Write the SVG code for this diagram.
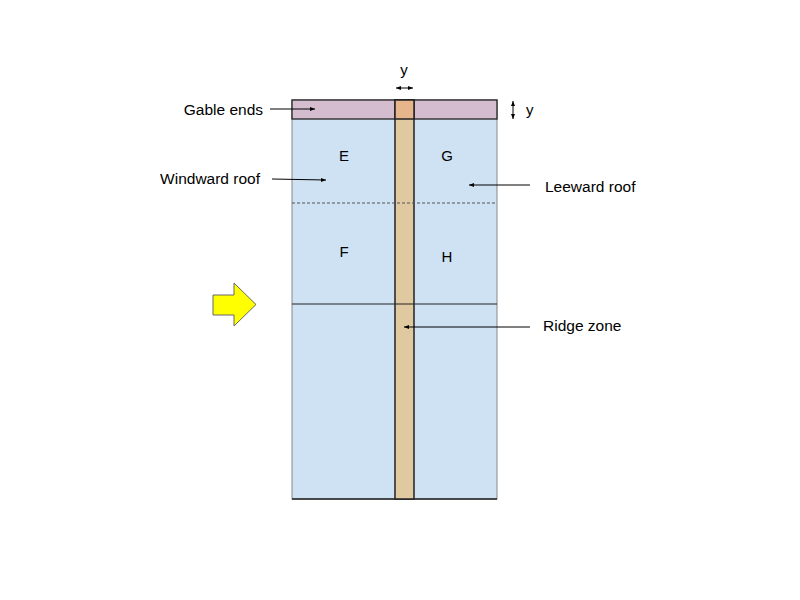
<svg xmlns="http://www.w3.org/2000/svg" width="800" height="600" viewBox="0 0 800 600">
<defs>
<style>
text{font-family:"Liberation Sans",Arial,sans-serif;font-size:15.5px;fill:#000}
.lbl{font-size:15px}
.lead{stroke:#000;stroke-width:1;fill:none}
</style>
<marker id="ah" viewBox="0 0 10 10" refX="10" refY="5" markerWidth="5" markerHeight="5" orient="auto-start-reverse">
<path d="M0,1 L10,5 L0,9 Z" fill="#000"/>
</marker>
</defs>
<rect width="800" height="600" fill="#fff"/>
<g id="roof">
<rect x="292" y="100" width="205" height="399" fill="#cfe2f3" stroke="#888" stroke-width="1"/>
<line x1="292" y1="499" x2="497" y2="499" stroke="#222" stroke-width="1.3"/>
</g>
<g id="gable-band">
<rect x="292" y="100" width="205" height="19" fill="#d5bdd0" stroke="#222" stroke-width="1.3"/>
</g>
<g id="ridge">
<rect x="395" y="100" width="19" height="399" fill="#e0c9a0" stroke="#222" stroke-width="1.5"/>
<rect x="395" y="100" width="19" height="19" fill="#e6b58c" stroke="#222" stroke-width="1.5"/>
</g>
<g id="zone-lines">
<line x1="292" y1="203" x2="497" y2="203" stroke="#555" stroke-width="1" stroke-dasharray="3,2"/>
<line x1="292" y1="304" x2="497" y2="304" stroke="#222" stroke-width="1.2"/>
</g>
<g id="wind-arrow">
<path d="M213,295 L234,295 L234,283 L256,304.5 L234,326 L234,315 L213,315 Z" fill="#ffff00" stroke="#666" stroke-width="1"/>
</g>
<g id="zone-labels">
<text x="344" y="161" text-anchor="middle" class="lbl">E</text>
<text x="447" y="161" text-anchor="middle" class="lbl">G</text>
<text x="344" y="257" text-anchor="middle" class="lbl">F</text>
<text x="447" y="262" text-anchor="middle" class="lbl">H</text>
</g>
<g id="dimensions">
<text x="404" y="75" text-anchor="middle" class="lbl">y</text>
<text x="526" y="115" class="lbl">y</text>
</g>
<g id="connectors">
<line x1="396" y1="88" x2="413" y2="88" class="lead" marker-start="url(#ah)" marker-end="url(#ah)"/>
<line x1="513" y1="101" x2="513" y2="119" class="lead" marker-start="url(#ah)" marker-end="url(#ah)"/>
<line x1="270" y1="109" x2="315" y2="109" class="lead" marker-end="url(#ah)"/>
<line x1="272" y1="179" x2="326" y2="180" class="lead" marker-end="url(#ah)"/>
<line x1="530" y1="185" x2="469" y2="185" class="lead" marker-end="url(#ah)"/>
<line x1="530" y1="327" x2="404" y2="327" class="lead" marker-end="url(#ah)"/>
</g>
<g id="callouts">
<text x="263" y="115" text-anchor="end">Gable ends</text>
<text x="260" y="184" text-anchor="end">Windward roof</text>
<text x="545" y="192">Leeward roof</text>
<text x="543" y="331">Ridge zone</text>
</g>
</svg>
